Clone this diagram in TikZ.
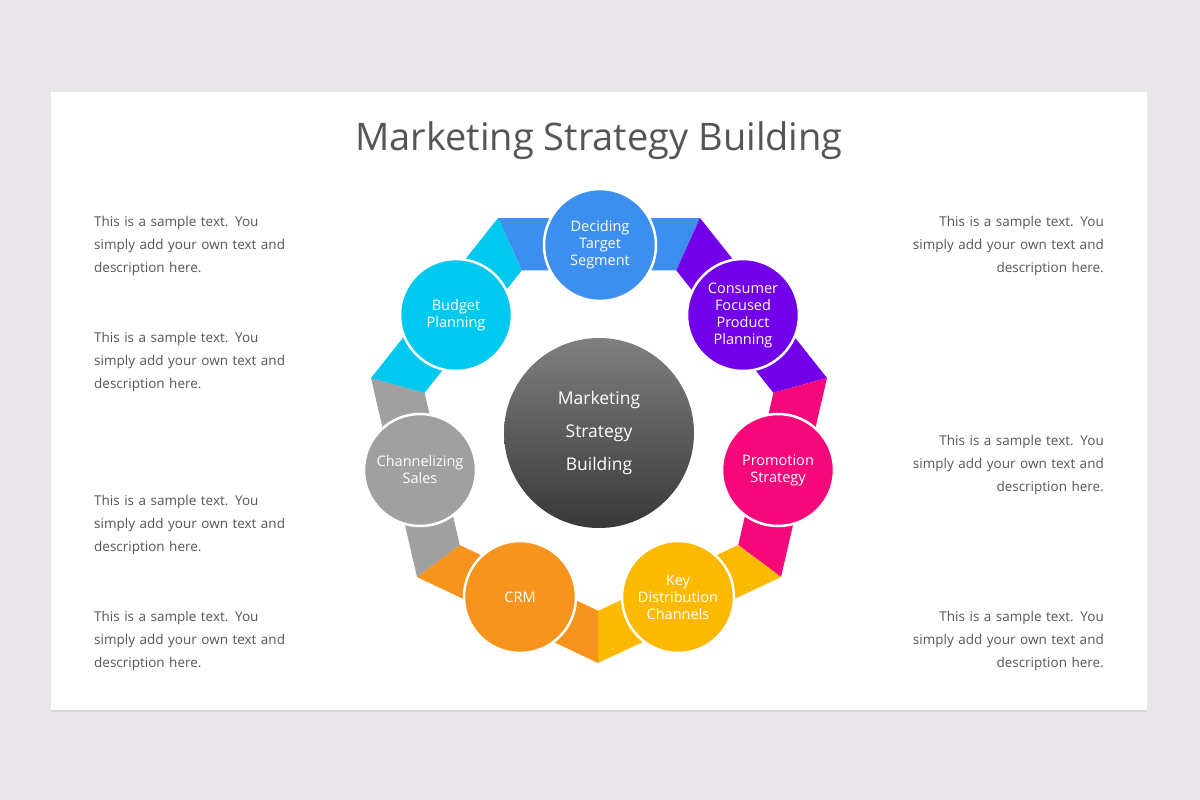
\documentclass[tikz,border=0pt]{standalone}
\usepackage{fontspec}
\setmainfont{Open Sans}
\usetikzlibrary{calc,shadows}
\definecolor{bg}{HTML}{E8E6E8}
\definecolor{txt}{HTML}{555555}
\definecolor{cblue}{HTML}{3D8FEF}
\definecolor{cpurple}{HTML}{7200E8}
\definecolor{cpink}{HTML}{F5087A}
\definecolor{cyellow}{HTML}{FBBA00}
\definecolor{corange}{HTML}{F7941D}
\definecolor{cgray}{HTML}{A0A0A0}
\definecolor{ccyan}{HTML}{00C8EE}
\tikzset{
 stepcirc/.style={circle,draw=white,line width=2.5pt,minimum size=112pt,inner sep=0pt,align=center,text=white,font=\fontsize{14.5}{17}\selectfont},
 side/.style={text=txt,font=\fontsize{13.5}{23}\selectfont,inner sep=0pt,text width=200pt},
}
\begin{document}
\begin{tikzpicture}[x=1pt,y=-1pt]
\useasboundingbox (0,0) rectangle (1200,800);
\fill[bg] (0,0) rectangle (1200,800);
\fill[white,drop shadow={opacity=0.15,shadow xshift=0pt,shadow yshift=-2pt}] (51,92) rectangle (1147,710);
\node[text=txt,font=\fontsize{38}{40}\selectfont] (title) at (599,141) {Marketing Strategy Building};
\coordinate (c) at (599,441);
\coordinate (v1) at (498,218);
\coordinate (v2) at (700,218);
\coordinate (v3) at (827,378);
\coordinate (v4) at (781,577);
\coordinate (v5) at (598,663);
\coordinate (v6) at (417,577);
\coordinate (v7) at (371,378);
\foreach \i in {1,...,7}{\coordinate (w\i) at ($(c)!0.765!(v\i)$);}
\foreach \a/\b/\col in {1/2/cblue,2/3/cpurple,3/4/cpink,4/5/cyellow,5/6/corange,6/7/cgray,7/1/ccyan}{
  \fill[\col] (v\a) -- (v\b) -- (w\b) -- (w\a) -- cycle;
}
\node[circle,minimum size=190pt,inner sep=0pt,top color=black!50,bottom color=black!78,align=center,text=white,font=\fontsize{17.5}{33}\selectfont] (core) at (599,433) {Marketing\\Strategy\\Building};
\node[stepcirc,fill=cblue] (n1) at (600,245) {Deciding\\Target\\Segment};
\node[stepcirc,fill=cpurple] (n2) at (743,315) {Consumer\\Focused\\Product\\Planning};
\node[stepcirc,fill=cpink] (n3) at (778,470) {Promotion\\Strategy};
\node[stepcirc,fill=cyellow] (n4) at (678,597) {Key\\Distribution\\Channels};
\node[stepcirc,fill=corange] (n5) at (520,597) {CRM};
\node[stepcirc,fill=cgray] (n6) at (420,470) {Channelizing\\Sales};
\node[stepcirc,fill=ccyan] (n7) at (456,315) {Budget\\Planning};
\foreach \y/\n in {246/l1,362/l2,525/l3,641/l4}{
 \node[side,align=left,anchor=west] (\n) at (94,\y) {This is a sample text. You\\simply add your own text and\\description here.};}
\foreach \y/\n in {246/r1,465/r2,641/r3}{
 \node[side,align=right,anchor=east] (\n) at (1104,\y) {This is a sample text. You\\simply add your own text and\\description here.};}
\end{tikzpicture}
\end{document}
